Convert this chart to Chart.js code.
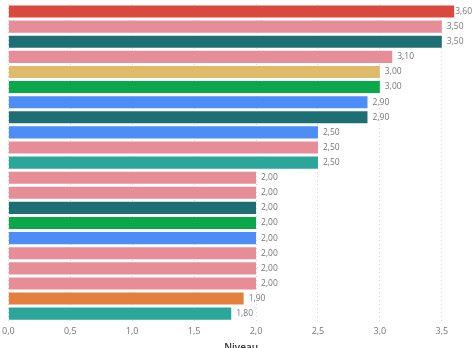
<!DOCTYPE html>
<html>
<head>
<meta charset="utf-8">
<script src="https://cdn.jsdelivr.net/npm/chart.js@4.4.1/dist/chart.umd.min.js"></script>
<style>
html,body{margin:0;padding:0;background:#fff;overflow:hidden;}
#wrap{width:474px;height:348px;position:relative;overflow:hidden;}
#c{position:absolute;left:-3px;top:0;}
</style>
</head>
<body>
<div id="wrap"><canvas id="c" width="477" height="356"></canvas></div>
<script>
const categories = ["Item 1","Item 2","Item 3","Item 4","Item 5","Item 6","Item 7","Item 8","Item 9","Item 10","Item 11","Item 12","Item 13","Item 14","Item 15","Item 16","Item 17","Item 18","Item 19","Item 20","Item 21"];
const niveau = [3.6,3.5,3.5,3.1,3.0,3.0,2.9,2.9,2.5,2.5,2.5,2.0,2.0,2.0,2.0,2.0,2.0,2.0,2.0,1.9,1.8];
const barColors = ["#D9493D","#E68D97","#1E6F73","#E68D97","#DDBB6B","#0BA84B","#4C8DF6","#1E6F73","#4C8DF6","#E68D97","#2BA69A","#E68D97","#E68D97","#1E6F73","#0BA84B","#4C8DF6","#E68D97","#E68D97","#E68D97","#E4803E","#2BA69A"];
const xTicks = [0,0.5,1,1.5,2,2.5,3,3.5];
const axisTitle = "Niveau";

const fmt = v => v.toFixed(1).replace('.', ',');
const fmt2 = v => v.toFixed(2).replace('.', ',');

const valueLabels = {
  id: 'valueLabels',
  afterDatasetsDraw(chart) {
    const ctx = chart.ctx;
    const meta = chart.getDatasetMeta(0);
    ctx.save();
    ctx.font = '8.5px "Open Sans", sans-serif';
    ctx.fillStyle = '#777';
    ctx.textBaseline = 'middle';
    ctx.textAlign = 'left';
    const limit = chart.width - 2;
    meta.data.forEach((bar, i) => {
      const t = fmt2(niveau[i]);
      const w = ctx.measureText(t).width;
      const x = Math.min(bar.x + 5, limit - w);
      ctx.fillText(t, x, bar.y);
    });
    ctx.restore();
  }
};

new Chart(document.getElementById('c'), {
  type: 'bar',
  data: {
    labels: categories,
    datasets: [{
      data: niveau,
      backgroundColor: barColors,
      borderWidth: 0,
      barPercentage: 0.8,
      categoryPercentage: 1.0
    }]
  },
  options: {
    indexAxis: 'y',
    responsive: false,
    animation: false,
    layout: { padding: { left: 1, right: 0, top: 4, bottom: 0 } },
    plugins: { legend: { display: false }, tooltip: { enabled: false } },
    scales: {
      y: { display: false },
      x: {
        min: 0,
        max: 3.76,
        afterBuildTicks(scale) {
          scale.ticks = xTicks.map(v => ({ value: v }));
        },
        border: { display: false, dash: [1, 3] },
        grid: {
          color: '#d6d6d6',
          lineWidth: 1,
          drawTicks: false
        },
        ticks: {
          color: '#777',
          font: { family: '"Open Sans", sans-serif', size: 9 },
          padding: 5,
          callback: v => fmt(v)
        },
        title: {
          display: true,
          text: axisTitle,
          color: '#333',
          font: { family: '"Open Sans", sans-serif', size: 10, weight: '600' },
          padding: { top: 0, bottom: 2 }
        }
      }
    }
  },
  plugins: [valueLabels]
});
</script>
</body>
</html>
